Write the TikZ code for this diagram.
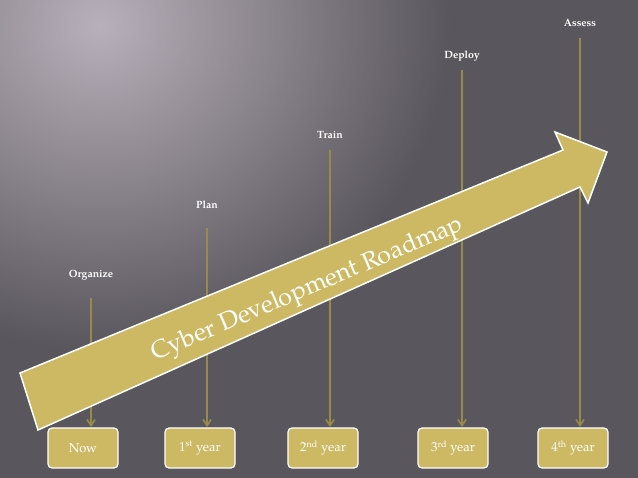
\documentclass[tikz,border=0pt]{standalone}
\usepackage{fontspec}
\setmainfont{TeX Gyre Pagella}
\usetikzlibrary{arrows.meta}
\begin{document}
\begin{tikzpicture}[x=1pt,y=-1pt,
  yearbox/.style={draw=white,line width=1.2pt,rounded corners=4pt,fill=gold,minimum width=70pt,minimum height=40pt,text=white,font=\fontsize{13}{15}\selectfont},
  lab/.style={text=white,font=\bfseries\fontsize{10.5}{12}\selectfont},
  conn/.style={draw=dgold,line width=1.6pt,-{Straight Barb[length=6pt,width=8pt]}}]
\definecolor{gold}{HTML}{CDB964}
\definecolor{dgold}{HTML}{9A8A4A}
\definecolor{bg}{HTML}{5A565D}
\definecolor{bgl}{HTML}{B8B0BA}
\useasboundingbox (0,0) rectangle (638,478);
\begin{scope}
\clip (0,0) rectangle (638,478);
\fill[bg] (0,0) rectangle (638,478);
\shade[inner color=bgl,outer color=bg] (-250,-300) rectangle (450,350);
\end{scope}
% nodes
\node[yearbox] (now) at (83,448) {Now};
\node[yearbox] (y1) at (200,448) {1\textsuperscript{st} year};
\node[yearbox] (y2) at (323,448) {2\textsuperscript{nd} year};
\node[yearbox] (y3) at (453,448) {3\textsuperscript{rd} year};
\node[yearbox] (y4) at (573,448) {4\textsuperscript{th} year};
\node[lab] (org) at (91,275) {Organize};
\node[lab] (plan) at (207,205) {Plan};
\node[lab] (train) at (330,135) {Train};
\node[lab] (dep) at (462,56) {Deploy};
\node[lab] (ass) at (580,23) {Assess};
\coordinate (c0) at (91,298); \coordinate (e0) at (91,427);
\coordinate (c1) at (207,228); \coordinate (e1) at (207,427);
\coordinate (c2) at (330,150); \coordinate (e2) at (330,427);
\coordinate (c3) at (462,70); \coordinate (e3) at (462,427);
\coordinate (c4) at (580,38); \coordinate (e4) at (580,427);
\foreach \i in {0,...,4} \draw[conn] (c\i) -- (e\i);
% big arrow
\filldraw[fill=gold,draw=white,line width=1.5pt,line join=miter]
  (20,373) -- (563,150) -- (555,132) -- (607,152) -- (588,203) -- (580,187) -- (38,430) -- cycle;
\node[text=white,font=\fontsize{25}{30}\selectfont,rotate=23] (title) at (308,290) {Cyber Development Roadmap};
\end{tikzpicture}
\end{document}
